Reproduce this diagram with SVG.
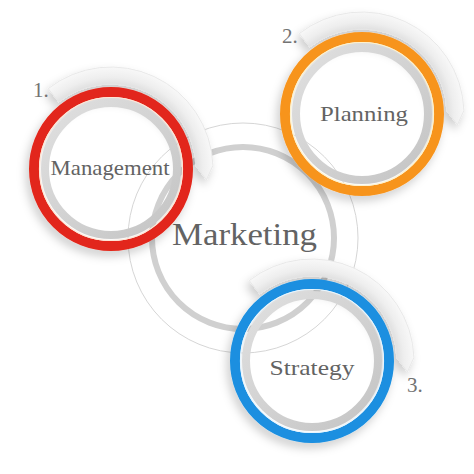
<svg xmlns="http://www.w3.org/2000/svg" width="474" height="474" viewBox="0 0 474 474">
  <defs>
    <filter id="shadow" x="-30%" y="-30%" width="160%" height="160%">
      <feDropShadow dx="-3" dy="5" stdDeviation="5" flood-color="#000" flood-opacity="0.2"/>
    </filter>
    <radialGradient id="bandGrad" gradientUnits="userSpaceOnUse" cx="0" cy="0" r="102">
      <stop offset="0.83" stop-color="#e0e0e0"/>
      <stop offset="0.9" stop-color="#eeeeee"/>
      <stop offset="1" stop-color="#f8f8f8"/>
    </radialGradient>
    <linearGradient id="grayGrad" x1="0" y1="0" x2="1" y2="1">
      <stop offset="0" stop-color="#e0e0e0"/>
      <stop offset="1" stop-color="#c4c4c4"/>
    </linearGradient>
    <path id="band" d="M -62.8 -80.4 A 102 102 0 0 1 101.94 -3.56 L 95.4 10.9 L 84.95 -2.97 A 85 85 0 0 0 -52.3 -67 Z"/>
  </defs>
  <style>
    .band { fill: url(#bandGrad); stroke: #e4e4e4; stroke-width: 0.8; }
    .ring { fill: none; stroke-width: 10; }
    .edge { fill: none; stroke-width: 1.2; }
    .inner { fill: none; stroke: url(#grayGrad); stroke-width: 8; }
    .label { font-family: "Liberation Serif", "DejaVu Serif", serif; fill: #636363; text-anchor: middle; }
    .num { font-family: "Liberation Serif", "DejaVu Serif", serif; fill: #737373; font-size: 21px; }
  </style>
  <rect width="474" height="474" fill="#ffffff"/>

  <g id="connectors">
    <circle cx="243" cy="238" r="115" fill="none" stroke="#d6d6d6" stroke-width="1"/>
    <circle cx="243" cy="238" r="91" fill="none" stroke="#d0d0d0" stroke-width="6"/>
  </g>

  <g id="center">
    <text class="label" x="244.5" y="245" font-size="31" textLength="145" lengthAdjust="spacingAndGlyphs">Marketing</text>
  </g>

  <g id="node-management" transform="translate(111,169)">
    <g filter="url(#shadow)">
      <use href="#band" class="band"/>
      <circle r="77" class="ring" stroke="#e2261a"/>
    </g>
    <circle r="71.5" class="edge" stroke="#ffe6d6"/>
    <circle r="66" class="inner"/>
    <text class="label" x="-1" y="6" font-size="22" textLength="119" lengthAdjust="spacingAndGlyphs">Management</text>
    <text class="num" x="-78" y="-72">1.</text>
  </g>

  <g id="node-planning" transform="translate(362,114)">
    <g filter="url(#shadow)">
      <use href="#band" class="band"/>
      <circle r="77" class="ring" stroke="#f7941e"/>
    </g>
    <circle r="71.5" class="edge" stroke="#fff3cc"/>
    <circle r="66" class="inner"/>
    <text class="label" x="2" y="7" font-size="22" textLength="88" lengthAdjust="spacingAndGlyphs">Planning</text>
    <text class="num" x="-80" y="-71">2.</text>
  </g>

  <g id="node-strategy" transform="translate(312,361)">
    <g filter="url(#shadow)">
      <use href="#band" class="band"/>
      <circle r="77" class="ring" stroke="#1a8fe0"/>
    </g>
    <circle r="71.5" class="edge" stroke="#e8f6ff"/>
    <circle r="66" class="inner"/>
    <text class="label" x="0" y="14" font-size="22" textLength="85" lengthAdjust="spacingAndGlyphs">Strategy</text>
    <text class="num" x="95" y="31">3.</text>
  </g>
</svg>
